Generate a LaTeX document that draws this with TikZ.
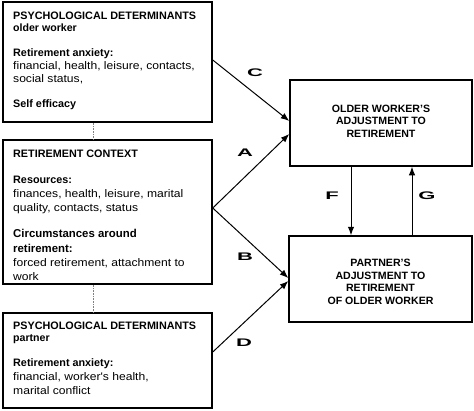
\documentclass[tikz,border=0pt]{standalone}
\usepackage{fontspec}
\setmainfont{Liberation Sans}
\newfontfamily\bodyf[FakeStretch=1.1]{Liberation Sans}
\newfontfamily\labf[FakeStretch=2.0]{Liberation Sans}
\usetikzlibrary{arrows.meta,calc}
\begin{document}
\begin{tikzpicture}[x=1pt,y=-1pt,
  box/.style={draw, line width=1.5pt, inner sep=0pt},
  ln/.style={anchor=base west, inner sep=0pt},
  ttl/.style={ln, font=\fontsize{10.8}{12}\selectfont\bfseries},
  sub/.style={ln, font=\fontsize{10.6}{12}\selectfont\bfseries},
  hd/.style={ln, font=\fontsize{10.8}{12}\selectfont\bfseries},
  hdb/.style={ln, font=\fontsize{11.4}{12}\selectfont\bfseries},
  bdy/.style={ln, font=\bodyf\fontsize{11}{12}\selectfont},
  rt/.style={align=center, inner sep=0pt, font=\fontsize{10.6}{12.5}\selectfont\bfseries},
  lab/.style={inner sep=0pt, font=\labf\fontsize{11}{12}\selectfont\bfseries},
  conn/.style={line width=1pt, -{Latex[length=8.5pt,width=6.5pt]}},
  dots/.style={gray, line width=0.6pt, densely dotted}]
\useasboundingbox[fill=white] (0,0) rectangle (474,410);
% left boxes
\node[box, minimum width=209pt, minimum height=120pt] (pw) at (107.5,62) {};
\node[box, minimum width=209pt, minimum height=144pt] (ctx) at (107.5,212) {};
\node[box, minimum width=209pt, minimum height=95pt] (pp) at (107.5,360.5) {};
% right boxes
\node[box, minimum width=182pt, minimum height=86pt] (owa) at (381,123) {};
\node[box, minimum width=183pt, minimum height=86pt] (paw) at (380.5,279) {};
% text box 1
\node[ttl] (t1) at (13,19) {PSYCHOLOGICAL DETERMINANTS};
\node[sub] (t2) at (13,31) {older worker};
\node[hd] (t3) at (13,56) {Retirement anxiety:};
\node[bdy] (t4) at (13,69) {financial, health, leisure, contacts,};
\node[bdy] (t5) at (13,82) {social status,};
\node[hd] (t6) at (13,107) {Self efficacy};
% text box 2
\node[ttl] (c1) at (13,157) {RETIREMENT CONTEXT};
\node[hd] (c2) at (13,183) {Resources:};
\node[bdy] (c3) at (13,197) {finances, health, leisure, marital};
\node[bdy] (c4) at (13,211) {quality, contacts, status};
\node[hdb] (c5) at (13,237) {Circumstances around};
\node[hdb] (c6) at (13,252) {retirement:};
\node[bdy] (c7) at (13,266) {forced retirement, attachment to};
\node[bdy] (c8) at (13,280) {work};
% text box 3
\node[ttl] (p1) at (13,329) {PSYCHOLOGICAL DETERMINANTS};
\node[sub] (p2) at (13,341) {partner};
\node[hd] (p3) at (13,366) {Retirement anxiety:};
\node[bdy] (p4) at (13,380) {financial, worker's health,};
\node[bdy] (p5) at (13,394) {marital conflict};
% right texts
\node[rt] (o1) at (381,121) {OLDER WORKER'S\\ADJUSTMENT TO\\RETIREMENT};
\node[rt] (q1) at (380.5,282) {PARTNER'S\\ADJUSTMENT TO\\RETIREMENT\\OF OLDER WORKER};
% dotted links
\draw[dots] ($(pw.south)+(-14.5,0)$) -- ($(ctx.north)+(-14.5,0)$);
\draw[dots] ($(ctx.south)+(-14.5,0)$) -- ($(pp.north)+(-14.5,0)$);
% connectors
\draw[conn] ($(pw.east)+(0,-2)$) -- ($(owa.west)+(0,-2)$);
\draw[conn] ($(ctx.east)+(0,-4)$) -- ($(owa.west)+(0,11)$);
\draw[conn] ($(ctx.east)+(0,-4)$) -- ($(paw.west)+(0,-1)$);
\draw[conn] ($(pp.east)+(0,-8.5)$) -- ($(paw.west)+(0,2)$);
\draw[conn] ($(owa.south)+(-30,0)$) -- ($(paw.north)+(-29.5,0)$);
\draw[conn] ($(paw.north)+(31.5,0)$) -- ($(owa.south)+(31,0)$);
% labels
\node[lab] (lc) at (255,73) {C};
\node[lab] (la) at (245,153) {A};
\node[lab] (lf) at (332,196) {F};
\node[lab] (lg) at (427,196) {G};
\node[lab] (lb) at (245,257) {B};
\node[lab] (ld) at (244,343) {D};
\end{tikzpicture}
\end{document}
